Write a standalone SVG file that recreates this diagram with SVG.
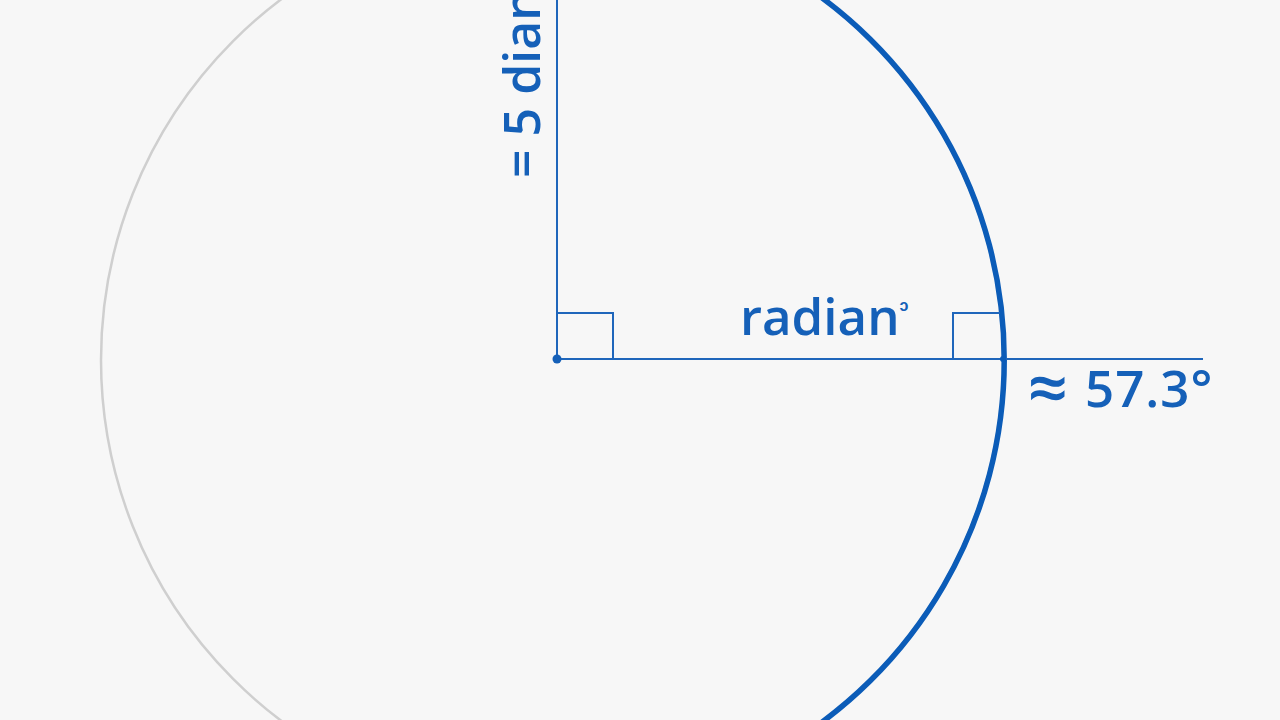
<svg xmlns="http://www.w3.org/2000/svg" width="1280" height="720" viewBox="0 0 1280 720">
<style>
.lbl{font-family:"Open Sans","Liberation Sans",sans-serif;fill:#1560b8;font-weight:600}
.thin{stroke:#1f66bb;stroke-width:2;fill:none}
</style>
<rect width="1280" height="720" fill="#f7f7f7"/>
<g id="circle">
<circle cx="552" cy="360" r="451" fill="none" stroke="#cfcfcf" stroke-width="2.5"/>
<path d="M 778 -31 A 451 451 0 0 1 778 751" fill="none" stroke="#0b5cb8" stroke-width="5.5"/>
</g>
<g id="connectors">
<line class="thin" x1="557" y1="0" x2="557" y2="359"/>
<line class="thin" x1="557" y1="359" x2="1203" y2="359"/>
<polyline class="thin" points="557,313 613,313 613,359" stroke-width="2.5"/>
<polyline class="thin" points="953,359 953,313 1000,313" stroke-width="2.5"/>
<circle cx="557" cy="359" r="4.5" fill="#1560b8"/>
<circle cx="1003" cy="359" r="3" fill="#0b5cb8"/>
</g>
<g id="label-vertical">
<text class="lbl" font-size="50" transform="translate(540,178) rotate(-90)">= 5 dian</text>
</g>
<g id="label-radian">
<text class="lbl" x="740" y="335" font-size="51">radian<tspan font-size="16" dy="-24">ɔ</tspan></text>
</g>
<g id="label-degrees">
<text class="lbl" x="1028" y="413" font-size="51"><tspan font-size="70">≈</tspan><tspan y="407" x="1085" letter-spacing="1">57.3°</tspan></text>
</g>
</svg>
